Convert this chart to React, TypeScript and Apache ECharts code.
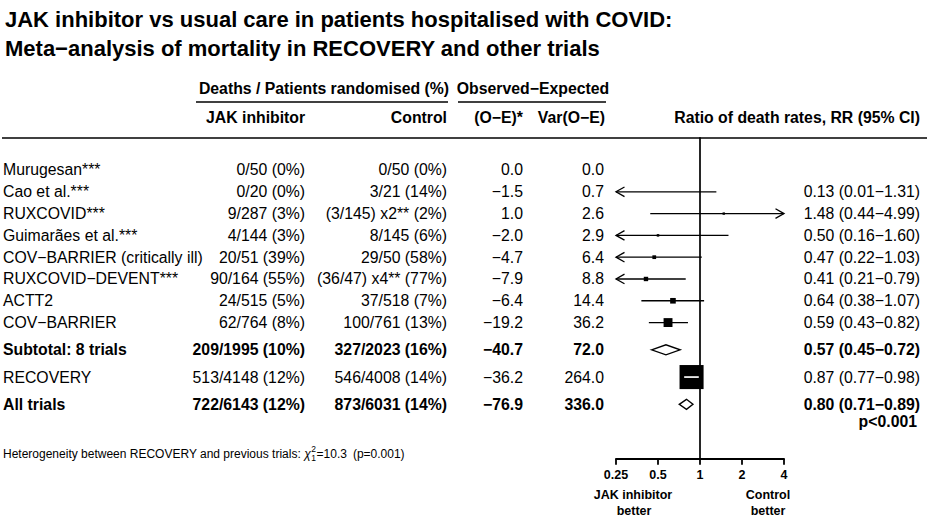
import React, { useEffect, useRef } from 'react';
import * as echarts from 'echarts';

// ---------- data ----------
const titleLines = [
  'JAK inhibitor vs usual care in patients hospitalised with COVID:',
  'Meta\u2212analysis of mortality in RECOVERY and other trials',
];
const studies = [
  'Murugesan***',
  'Cao et al.***',
  'RUXCOVID***',
  'Guimarães et al.***',
  'COV\u2212BARRIER (critically ill)',
  'RUXCOVID\u2212DEVENT***',
  'ACTT2',
  'COV\u2212BARRIER',
  'Subtotal: 8 trials',
  'RECOVERY',
  'All trials',
];
const kinds = ['trial', 'trial', 'trial', 'trial', 'trial', 'trial', 'trial', 'trial', 'subtotal', 'trial', 'total'];
const jakDeaths = [
  '0/50 (0%)', '0/20 (0%)', '9/287 (3%)', '4/144 (3%)', '20/51 (39%)', '90/164 (55%)',
  '24/515 (5%)', '62/764 (8%)', '209/1995 (10%)', '513/4148 (12%)', '722/6143 (12%)',
];
const controlDeaths = [
  '0/50 (0%)', '3/21 (14%)', '(3/145) x2** (2%)', '8/145 (6%)', '29/50 (58%)', '(36/47) x4** (77%)',
  '37/518 (7%)', '100/761 (13%)', '327/2023 (16%)', '546/4008 (14%)', '873/6031 (14%)',
];
const oMinusE = [0.0, -1.5, 1.0, -2.0, -4.7, -7.9, -6.4, -19.2, -40.7, -36.2, -76.9];
const varOE = [0.0, 0.7, 2.6, 2.9, 6.4, 8.8, 14.4, 36.2, 72.0, 264.0, 336.0];
const rrEst = [null, 0.13, 1.48, 0.50, 0.47, 0.41, 0.64, 0.59, 0.57, 0.87, 0.80];
const rrLow = [null, 0.01, 0.44, 0.16, 0.22, 0.21, 0.38, 0.43, 0.45, 0.77, 0.71];
const rrHigh = [null, 1.31, 4.99, 1.60, 1.03, 0.79, 1.07, 0.82, 0.72, 0.98, 0.89];
const tickValues = [0.25, 0.5, 1, 2, 4];
const tickLabels = ['0.25', '0.5', '1', '2', '4'];
const pValueText = 'p<0.001';
const hetLead = 'Heterogeneity between RECOVERY and previous trials: ';
const hetChi2 = '10.3';
const hetDf = '1';
const hetP = '(p=0.001)';
const headerGroup1 = 'Deaths / Patients randomised (%)';
const headerGroup2 = 'Observed\u2212Expected';
const headerCols = ['JAK inhibitor', 'Control', '(O\u2212E)*', 'Var(O\u2212E)', 'Ratio of death rates, RR (95% CI)'];
const favourLeft = ['JAK inhibitor', 'better'];
const favourRight = ['Control', 'better'];

// ---------- layout ----------
const FONT = '"Liberation Sans", Arial, Helvetica, sans-serif';
const rowPos = [0, 1, 2, 3, 4, 5, 6, 7, 8.25, 9.5, 10.75];
const Y_MIN = -1.5;
const Y_MAX = 13.25;
const X_MIN = 0.25;
const X_MAX = 4;
const BOX_K = 1.48;
const ROW_FS = 15.8;
const HEAD_FS = 15.8;

const fmt1 = (v: number) => v.toFixed(1).replace('-', '\u2212');
const fmt2 = (v: number) => v.toFixed(2);

function txt(text: string, x: number, y: number, size: number, bold: boolean, align = 'left', vAlign = 'middle', extra: any = {}) {
  return {
    type: 'text',
    x,
    y,
    silent: true,
    style: {
      text,
      fill: '#000',
      font: `${bold ? 'bold ' : ''}${size}px ${FONT}`,
      align,
      textAlign: align,
      verticalAlign: vAlign,
      textVerticalAlign: vAlign,
      ...extra,
    },
  };
}

function measure(text: string, font: string) {
  const c = document.createElement('canvas').getContext('2d');
  if (!c) return text.length * 6;
  c.font = font;
  return c.measureText(text).width;
}

function hline(x1: number, x2: number, y: number, w = 1.5) {
  return { type: 'line', silent: true, shape: { x1, y1: y, x2, y2: y }, style: { stroke: '#000', lineWidth: w } };
}

export default function App() {
  const ref = useRef<HTMLDivElement>(null);

  useEffect(() => {
    if (!ref.current) return;
    const chart = echarts.init(ref.current, null, { renderer: 'svg' });

    // heterogeneity line pieces
    const hetY = 454;
    const hetFont = `12px ${FONT}`;
    const wLead = measure(hetLead, hetFont);
    const chiX = 3 + wLead;
    const wChi = measure('\u03c7', `italic 12px ${FONT}`);
    const scriptX = chiX + wChi + 0.5;
    const wScript = measure('2', `8.5px ${FONT}`);
    const eqX = scriptX + wScript + 0.5;
    const eqText = '=' + hetChi2;
    const wEq = measure(eqText, hetFont);
    const pX = eqX + wEq + 6;

    const graphics: any[] = [
      txt(titleLines[0], 5, 19, 22, true),
      txt(titleLines[1], 5, 48, 22, true),
      txt(headerGroup1, 324, 88, HEAD_FS, true, 'center'),
      txt(headerGroup2, 533, 88, HEAD_FS, true, 'center'),
      hline(196, 448, 102, 1.6),
      hline(458, 606, 102, 1.6),
      txt(headerCols[0], 206, 117, HEAD_FS, true, 'left'),
      txt(headerCols[1], 447, 117, HEAD_FS, true, 'right'),
      txt(headerCols[2], 523, 117, HEAD_FS, true, 'right'),
      txt(headerCols[3], 605, 117, HEAD_FS, true, 'right'),
      txt(headerCols[4], 920, 117, HEAD_FS, true, 'right'),
      hline(2, 927, 138, 1.6),
      txt(favourLeft[0], 633, 495, 12.5, true, 'center'),
      txt(favourLeft[1], 634, 511, 12.5, true, 'center'),
      txt(favourRight[0], 768, 495, 12.5, true, 'center'),
      txt(favourRight[1], 768, 511, 12.5, true, 'center'),
      txt(hetLead, 3, hetY, 12, false),
      txt('\u03c7', chiX, hetY, 12, false, 'left', 'middle', { font: `italic 12px ${FONT}` }),
      txt('2', scriptX, hetY - 5, 8.5, false),
      txt(hetDf, scriptX, hetY + 3.5, 8.5, false),
      txt(eqText, eqX, hetY, 12, false),
      txt(hetP, pX, hetY, 12, false),
    ];

    const tableData = studies.map((_, i) => [1, rowPos[i], i]);
    const forestData = studies
      .map((_, i) => (rrEst[i] == null ? null : [rrEst[i], rrLow[i], rrHigh[i], rowPos[i], varOE[i], i]))
      .filter((d) => d != null);

    const option: any = {
      animation: false,
      backgroundColor: '#fff',
      grid: {
        left: 616,
        right: 145,
        top: 137.3,
        bottom: 66.2,
        containLabel: false,
        outerBoundsMode: 'none',
      },
      xAxis: {
        type: 'log',
        logBase: 2,
        min: X_MIN,
        max: X_MAX,
        position: 'bottom',
        axisLine: { show: true, onZero: false, lineStyle: { color: '#000', width: 1.8 } },
        axisTick: { show: true, inside: false, length: 6, lineStyle: { color: '#000', width: 1.8 } },
        axisLabel: {
          show: true,
          color: '#000',
          fontFamily: FONT,
          fontWeight: 'bold',
          fontSize: 12.5,
          margin: 10,
          showMinLabel: true,
          showMaxLabel: true,
          hideOverlap: false,
          formatter: (v: number) => {
            const k = tickValues.findIndex((t) => Math.abs(Math.log2(t) - Math.log2(v)) < 1e-6);
            return k >= 0 ? tickLabels[k] : '';
          },
        },
        splitLine: { show: false },
        minorTick: { show: false },
      },
      yAxis: {
        type: 'value',
        inverse: true,
        min: Y_MIN,
        max: Y_MAX,
        show: false,
        splitLine: { show: false },
      },
      graphic: graphics,
      series: [
        {
          type: 'line',
          data: [[1, Y_MIN], [1, Y_MAX]],
          symbol: 'none',
          silent: true,
          lineStyle: { color: '#000', width: 1.7 },
          z: 1,
        },
        {
          type: 'custom',
          silent: true,
          clip: false,
          z: 3,
          encode: { x: 0, y: 3 },
          data: forestData,
          renderItem: (params: any, api: any) => {
            const est = api.value(0);
            const lo = api.value(1);
            const hi = api.value(2);
            const pos = api.value(3);
            const v = api.value(4);
            const i = api.value(5);
            const kind = kinds[i];
            const y = api.coord([1, pos])[1];
            const xOf = (val: number) => api.coord([Math.min(Math.max(val, X_MIN), X_MAX), pos])[0];
            const children: any[] = [];
            const lw = 1.3;
            if (kind === 'trial') {
              const x1 = xOf(lo);
              const x2 = xOf(hi);
              children.push({ type: 'line', shape: { x1, y1: y, x2, y2: y }, style: { stroke: '#000', lineWidth: lw } });
              if (lo < X_MIN) {
                children.push({
                  type: 'polyline',
                  shape: { points: [[x1 + 8.5, y - 4.8], [x1, y], [x1 + 8.5, y + 4.8]] },
                  style: { stroke: '#000', fill: 'none', lineWidth: lw },
                });
              }
              if (hi > X_MAX) {
                children.push({
                  type: 'polyline',
                  shape: { points: [[x2 - 8.5, y - 4.8], [x2, y], [x2 - 8.5, y + 4.8]] },
                  style: { stroke: '#000', fill: 'none', lineWidth: lw },
                });
              }
              if (est >= X_MIN && est <= X_MAX) {
                const s = BOX_K * Math.sqrt(v);
                const xc = xOf(est);
                children.push({
                  type: 'rect',
                  shape: { x: xc - s / 2, y: y - s / 2, width: s, height: s },
                  style: { fill: '#000', stroke: 'none' },
                });
                if (x1 > xc - s / 2 && x2 < xc + s / 2) {
                  children.push({
                    type: 'line',
                    shape: { x1, y1: y, x2, y2: y },
                    style: { stroke: '#fff', lineWidth: lw + 0.4 },
                  });
                }
              }
            } else {
              const xl = xOf(lo);
              const xr = xOf(hi);
              const xc = xOf(est);
              children.push({
                type: 'polygon',
                shape: { points: [[xl, y], [xc, y - 5], [xr, y], [xc, y + 5]] },
                style: { fill: '#fff', stroke: '#000', lineWidth: 1.4 },
              });
            }
            return { type: 'group', children };
          },
        },
        {
          type: 'custom',
          silent: true,
          clip: false,
          z: 4,
          encode: { x: 0, y: 1 },
          data: tableData,
          renderItem: (params: any, api: any) => {
            const i = api.value(2);
            const pos = api.value(1);
            const y = api.coord([1, pos])[1];
            const bold = kinds[i] !== 'trial';
            const children: any[] = [
              txt(studies[i], 3, y, ROW_FS, bold, 'left'),
              txt(jakDeaths[i], 305, y, ROW_FS, bold, 'right'),
              txt(controlDeaths[i], 447, y, ROW_FS, bold, 'right'),
              txt(fmt1(oMinusE[i]), 523, y, ROW_FS, bold, 'right'),
              txt(fmt1(varOE[i]), 604, y, ROW_FS, bold, 'right'),
            ];
            if (rrEst[i] != null) {
              children.push(
                txt(`${fmt2(rrEst[i] as number)} (${fmt2(rrLow[i] as number)}\u2212${fmt2(rrHigh[i] as number)})`, 920, y, ROW_FS, bold, 'right')
              );
            }
            if (kinds[i] === 'total') {
              const y2 = api.coord([1, pos + 0.78])[1];
              children.push(txt(pValueText, 917, y2, ROW_FS, true, 'right'));
            }
            return { type: 'group', children };
          },
        },
      ],
    };

    chart.setOption(option);
    return () => chart.dispose();
  }, []);

  return (
    <div
      ref={ref}
      style={{ position: 'fixed', left: 0, top: 0, width: 929, height: 525, background: '#fff' }}
    />
  );
}
